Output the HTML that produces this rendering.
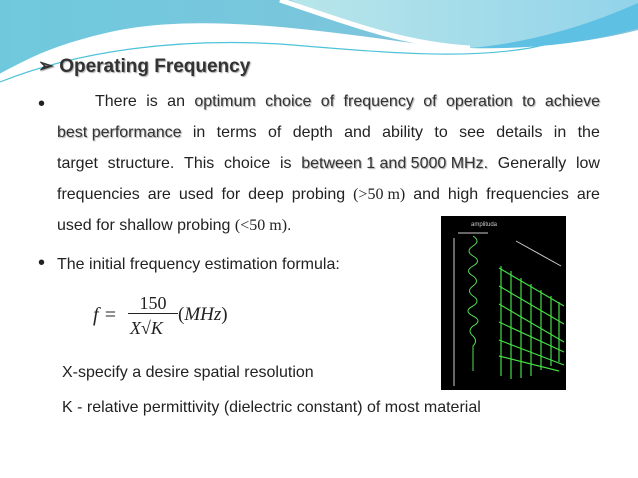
<!DOCTYPE html>
<html><head><style>
body{margin:0;width:638px;height:478px;background:#fff;position:relative;overflow:hidden;font-family:"Liberation Sans",sans-serif;color:#222}
.t{position:absolute;font-size:16px;white-space:nowrap}
.s{color:#333;text-shadow:1px 1px 1px #aaa}
</style></head><body>
<svg width="638" height="90" style="position:absolute;left:0;top:0">
<defs><linearGradient id="g" x1="0" x2="1"><stop offset="0" stop-color="#6fc9dd"/><stop offset="1" stop-color="#84c3dc"/></linearGradient>
<linearGradient id="g2" x1="0" x2="1"><stop offset="0" stop-color="#b8e6ea"/><stop offset="1" stop-color="#92d3ea"/></linearGradient></defs>
<path d="M0 0H638V30C560 50 470 52 390 40C300 28 200 15 120 30C70 40 30 55 0 75Z" fill="url(#g)"/>
<path d="M290 0H638V10C600 35 520 50 470 48C400 45 340 20 290 0Z" fill="url(#g2)"/>
<path d="M280 0C340 20 400 44 470 48" stroke="#fff" stroke-width="5" fill="none"/>
<path d="M0 77C40 55 80 40 130 34C210 26 300 32 380 42" stroke="#fff" stroke-width="6" fill="none"/>
<path d="M0 82C80 50 180 38 280 44C380 52 460 60 530 48C580 38 615 22 638 8" stroke="#4fc3d9" stroke-width="1.2" fill="none"/>
<path d="M470 48C540 42 600 20 638 3V28C600 40 540 50 470 48Z" fill="#5ec0e2"/>
</svg>
<div class="t" style="left:38px;top:55px;font-size:19px;font-weight:bold"><span class="s">➢ Operating Frequency</span></div>
<div class="t" style="left:38px;top:93px;font-size:20px">•</div>
<div class="t" style="left:95px;top:93px;width:505px;display:flex;justify-content:space-between"><span>There</span><span>is</span><span>an</span><span class="s">optimum</span><span class="s">choice</span><span class="s">of</span><span class="s">frequency</span><span class="s">of</span><span class="s">operation</span><span class="s">to</span><span class="s">achieve</span></div>
<div class="t" style="left:57px;top:124px;width:543px;display:flex;justify-content:space-between"><span class="s">best performance</span><span>in</span><span>terms</span><span>of</span><span>depth</span><span>and</span><span>ability</span><span>to</span><span>see</span><span>details</span><span>in</span><span>the</span></div>
<div class="t" style="left:57px;top:155px;width:543px;display:flex;justify-content:space-between"><span>target</span><span>structure.</span><span>This</span><span>choice</span><span>is</span><span class="s">between 1 and 5000 MHz.</span><span>Generally</span><span>low</span></div>
<div class="t" style="left:57px;top:186px;width:543px;display:flex;justify-content:space-between"><span>frequencies</span><span>are</span><span>used</span><span>for</span><span>deep</span><span>probing</span><span style="font-family:'Liberation Serif'">(&gt;50 m)</span><span>and</span><span>high</span><span>frequencies</span><span>are</span></div>
<div class="t" style="left:57px;top:217px">used for shallow probing <span style="font-family:'Liberation Serif'">(&lt;50 m)</span>.</div>
<div class="t" style="left:38px;top:252px;font-size:20px">•</div>
<div class="t" style="left:57px;top:256px">The initial frequency estimation formula:</div>
<div class="t" style="left:93px;top:304px;font-family:'Liberation Serif';font-size:20px;font-style:italic">f =</div>
<div style="position:absolute;left:128px;top:293px;width:50px;text-align:center;font-family:'Liberation Serif';font-size:18px;border-bottom:1px solid #222;line-height:20px">150</div>
<div class="t" style="left:130px;top:318px;font-family:'Liberation Serif';font-size:18px;font-style:italic">X√K</div>
<div class="t" style="left:178px;top:304px;font-family:'Liberation Serif';font-size:19px">(<i>MHz</i>)</div>
<div class="t" style="left:62px;top:364px">X-specify a desire spatial resolution</div>
<div class="t" style="left:62px;top:399px">K - relative permittivity (dielectric constant) of most material</div>
<svg width="125" height="174" style="position:absolute;left:441px;top:216px;background:#000">
<text x="30" y="10" fill="#ccc" font-size="6" font-family="Liberation Sans">amplituda</text>
<line x1="17" y1="17" x2="47" y2="17" stroke="#ccc"/>
<line x1="13" y1="22" x2="13" y2="170" stroke="#ccc"/>
<path d="M32 20 q8 5 0 10 q-8 5 0 10 q9 5 0 10 q-9 5 0 10 q7 5 0 10 q-7 5 0 10 q8 5 0 10 q-10 5 0 10 q10 5 0 10 q-6 5 0 10 q5 5 0 10 l0 25" stroke="#5d5" fill="none"/>
<g stroke="#4d4" fill="none" stroke-width="1.2">
<path d="M58 52 l65 38 M58 70 l65 38 M58 88 l65 38 M58 106 l65 30 M58 124 l65 25 M58 140 l60 15"/>
<path d="M60 50 v110 M70 55 v108 M80 62 v100 M90 68 v92 M100 74 v80 M110 80 v70 M118 86 v60"/>
</g>
<line x1="75" y1="25" x2="120" y2="50" stroke="#ccc"/>
</svg>
</body></html>
